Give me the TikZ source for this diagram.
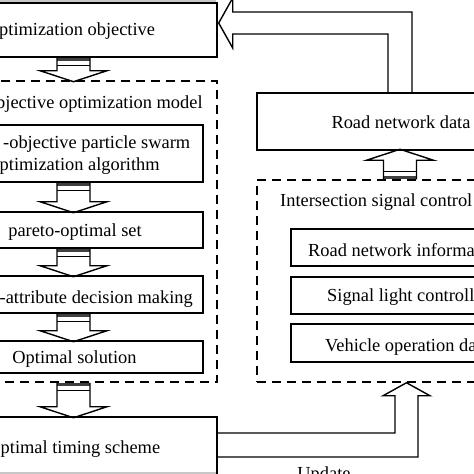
\documentclass[tikz,border=0pt]{standalone}
\usepackage{fontspec}
\setmainfont{Liberation Serif}
\usetikzlibrary{calc}
\tikzset{
  box/.style={draw, line width=1.4pt, inner sep=0pt},
  dbox/.style={draw, line width=1.5pt, dash pattern=on 9pt off 6pt, inner sep=0pt},
  txt/.style={inner sep=0pt, anchor=base west},
  ctxt/.style={inner sep=0pt, anchor=base},
  fat/.style={line width=1.4pt, line join=miter},
  pics/blockarrow/.style={code={
    \fill[black!75] (-16.5,0) rectangle (16.5,3.5);
    \draw[line width=0.9pt] (-16.5,8) -- (16.5,8);
    \draw[fat] (-16.5,0) -- (-16.5,{#1-11}) -- (-33.5,{#1-11}) -- (0,#1) -- (33.5,{#1-11}) -- (16.5,{#1-11}) -- (16.5,0);
  }}
}
\begin{document}
\begin{tikzpicture}[x=1pt, y=-1pt, font=\fontsize{18.4}{22}\selectfont]
  \useasboundingbox (0,0) rectangle (474,474);
  \clip (0,0) rectangle (474,474);
  % left column
  \node[box, minimum width=287pt, minimum height=54pt] (obj) at (73.5,30) {};
  \node[dbox, minimum width=287pt, minimum height=301pt] (model) at (73.5,231.5) {};
  \node[box, minimum width=259pt, minimum height=57pt] (pso) at (73.5,153.5) {};
  \node[box, minimum width=259pt, minimum height=36pt] (pareto) at (73.5,230) {};
  \node[box, minimum width=259pt, minimum height=37pt] (decision) at (73.5,294.5) {};
  \node[box, minimum width=259pt, minimum height=32pt] (solution) at (73.5,357) {};
  \node[box, minimum width=287pt, minimum height=103pt] (timing) at (73.5,468.5) {};
  % right column
  \node[box, minimum width=286pt, minimum height=57pt] (road) at (400,121.5) {};
  \node[dbox, minimum width=286pt, minimum height=202pt] (isc) at (400,281) {};
  \node[box, minimum width=232pt, minimum height=37pt] (rni) at (407,247.5) {};
  \node[box, minimum width=232pt, minimum height=37pt] (slc) at (407,295.5) {};
  \node[box, minimum width=232pt, minimum height=38pt] (vod) at (407,343) {};
  % texts
  \node[txt] (tobj) at (-1,35) {ptimization objective};
  \node[txt] (tmodel) at (-4,108) {bjective optimization model};
  \node[txt] (tpsoa) at (3,148) {-objective particle swarm};
  \node[txt] (tpsob) at (-0.5,170) {ptimization algorithm};
  \node[ctxt] (tpareto) at (75,236.5) {pareto-optimal set};
  \node[txt] (tdecision) at (-0.5,303) {-attribute decision making};
  \node[ctxt] (tsolution) at (74.5,363) {Optimal solution};
  \node[txt] (ttiming) at (0.5,453) {ptimal timing scheme};
  \node[ctxt] (troad) at (401,128) {Road network data};
  \node[txt] (tisc) at (280,206.5) {Intersection signal control};
  \node[txt] (trni) at (308,256.5) {Road network informa};
  \node[txt] (tslc) at (327,301.5) {Signal light controll};
  \node[txt] (tvod) at (325,351.5) {Vehicle operation da};
  \node[ctxt] (tupd) at (324,479.5) {Update};
  % block arrows
  \pic at (obj.south) {blockarrow=24};
  \pic at (pso.south) {blockarrow=30};
  \pic at (pareto.south) {blockarrow=28};
  \pic at (decision.south) {blockarrow=28};
  \pic at (model.south) {blockarrow=35};
  \pic[rotate=180] at (isc.north) {blockarrow=30};
  % feedback arrows
  \coordinate (tipA) at ($(obj.east)+(1,-7)$);
  \draw[fat] ($(road.north)+(-12,0)$) |- ($(tipA)+(14,11)$) -- ++(0,14) -- (tipA)
    -- ($(tipA)+(14,-25)$) -- ++(0,14) -| ($(road.north)+(12,0)$);
  \coordinate (tipB) at ($(isc.south)+(6.5,0)$);
  \draw[fat] ($(timing.east)+(0,-35.5)$) -| ($(tipB)+(-11.5,13)$) -- ++(-12,0) -- (tipB)
    -- ($(tipB)+(23.5,13)$) -- ++(-12,0) |- ($(timing.east)+(0,-11.5)$);
  % page edges
  \fill[black!22] (0,0) rectangle (216,2.3);
  \fill[black!22] (0,471.5) rectangle (216,474);
\end{tikzpicture}
\end{document}
